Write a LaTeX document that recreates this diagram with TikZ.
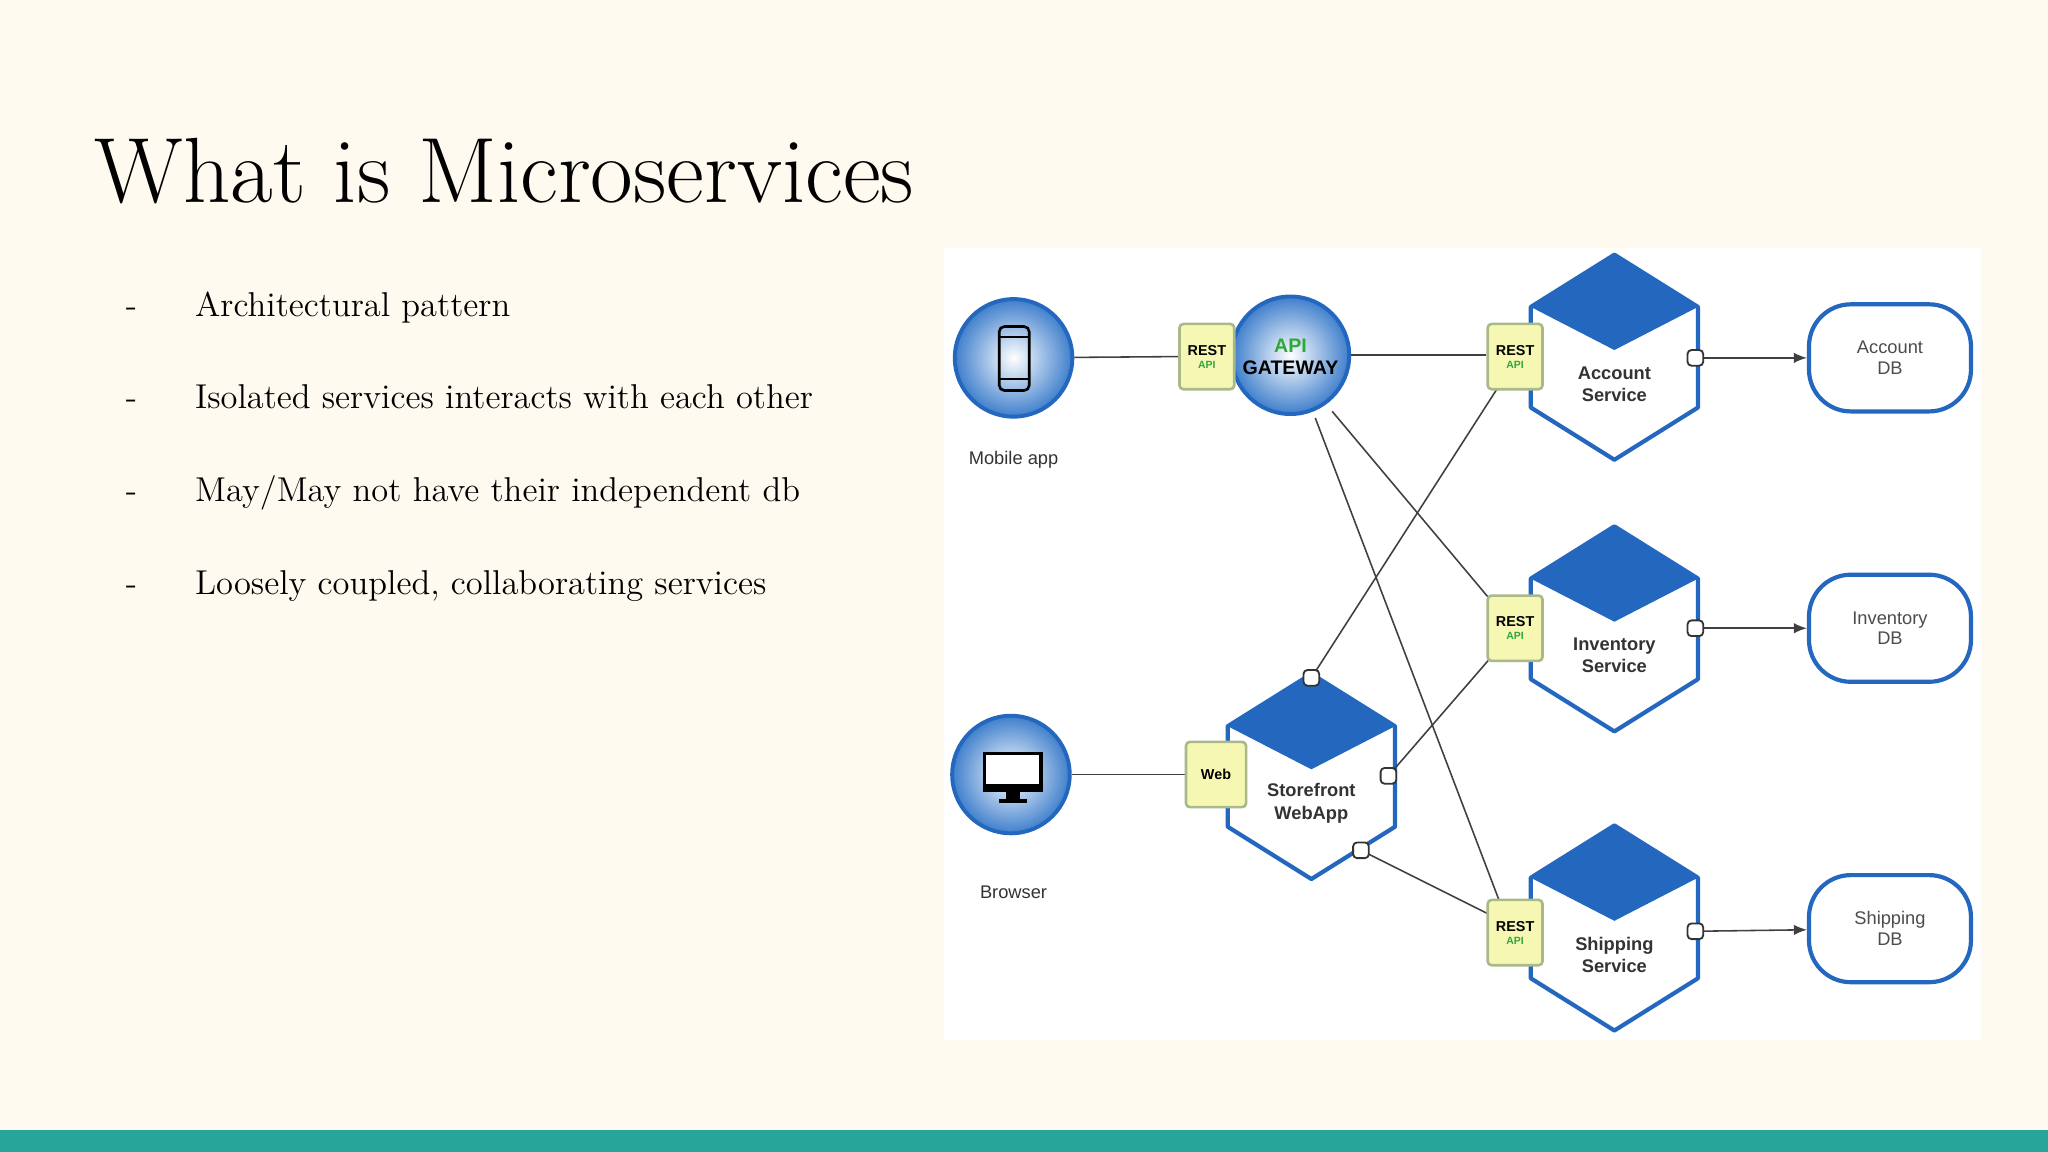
\documentclass[tikz,border=0pt]{standalone}
\usepackage{fontspec}
\newfontfamily\dsans{Liberation Sans}
\usetikzlibrary{arrows.meta}
\definecolor{bg}{HTML}{FEFAEF}
\definecolor{teal}{HTML}{26A69A}
\definecolor{hblue}{HTML}{2367BE}
\definecolor{cblue}{HTML}{3F7FCC}
\definecolor{ylw}{HTML}{F7F7B4}
\definecolor{ygr}{HTML}{A9B98A}
\definecolor{agreen}{HTML}{2FA83A}
\begin{document}
\begin{tikzpicture}[x=0.5pt,y=-0.5pt,
  circ/.style={circle,draw=hblue,line width=1.5pt,minimum size=45pt,inner sep=0pt,shading=radial,inner color=white,outer color=cblue},
  box/.style={rectangle,rounded corners=1.5pt,draw=ygr,line width=1pt,fill=ylw,minimum width=21pt,minimum height=25pt,inner sep=0pt,font=\dsans\bfseries\fontsize{5.5}{6}\selectfont,align=center},
  port/.style={rectangle,rounded corners=1.5pt,draw=black!80,line width=0.7pt,fill=white,minimum size=6pt,inner sep=0pt},
  db/.style={rectangle,rounded corners=16pt,draw=hblue,line width=1.6pt,fill=white,minimum width=62pt,minimum height=41pt,font=\dsans\fontsize{7}{8}\selectfont,text=black!70,align=center},
  lbl/.style={font=\dsans\bfseries\fontsize{7}{8.5}\selectfont,text=black!80,align=center},
  captn/.style={font=\dsans\fontsize{7}{8}\selectfont,text=black!80},
  wire/.style={draw=black!75,line width=0.6pt},
  bul/.style={anchor=base west,inner sep=0pt,font=\fontsize{13.2}{15}\selectfont}]
\useasboundingbox (0,0) rectangle (1568,882);
\fill[bg] (0,0) rectangle (1568,882);
\fill[teal] (0,865) rectangle (1568,882);
\node[anchor=base west,inner sep=0pt,font=\fontsize{35.5}{40}\selectfont] (title) at (72,155) {What is Microservices};
\foreach \y/\t [count=\i] in {242/Architectural pattern,313/Isolated services interacts with each other,384/May\slash May not have their independent db,455/{Loosely coupled, collaborating services}}{
  \node[bul] (d\i) at (96,\y) {-};
  \node[bul] (b\i) at (149,\y) {\t};
}
\fill[white] (723,190) rectangle (1517,796);
% hexagons
\newcommand\myhex[4]{%
  \filldraw[draw=hblue,line width=1.6pt,fill=white,line join=round] (#2,#3-78)--(#2+64,#3-38)--(#2+64,#3+39)--(#2,#3+79)--(#2-64,#3+39)--(#2-64,#3-38)--cycle;
  \fill[hblue] (#2,#3-78)--(#2+64,#3-38)--(#2,#3-5)--(#2-64,#3-38)--cycle;
  \node[lbl] (#1) at (#2,#3+21) {#4};}
\myhex{acc}{1236}{273}{Account\\Service}
\myhex{inv}{1236}{481}{Inventory\\Service}
\myhex{shp}{1236}{710}{Shipping\\Service}
\myhex{sto}{1004}{594}{Storefront\\WebApp}
% circles
\node[circ] (mob) at (776,274) {};
\node[circ] (gw) at (988,272) {};
\node[circ] (brw) at (774,593) {};
\node[font=\dsans\bfseries\fontsize{7.5}{8.5}\selectfont,align=center] (gwt) at (988,273) {\textcolor{agreen}{API}\\GATEWAY};
\node[captn] (mobl) at (776,352) {Mobile app};
\node[captn] (brwl) at (776,683) {Browser};
% icons
\draw[line width=1pt,rounded corners=2pt] (765,250) rectangle (788,299);
\draw[line width=0.6pt] (765,258)--(788,258) (765,290)--(788,290);
\draw[line width=1.2pt,fill=white] (754,577) rectangle (797,605);
\fill[black] (754,600) rectangle (797,605);
\fill[black] (770,605) rectangle (781,612);
\fill[black] (765,612) rectangle (786,615);
% wires
\draw[wire] (mob) -- (903,273);
\draw[wire] (gw) -- (1138,272);
\draw[wire] (brw) -- (908,593);
\draw[wire] (1020,315) -- (1140,458);
\draw[wire] (1007,320) -- (1148,690);
\draw[wire] (1004,519) -- (1146,298);
\draw[wire] (1063,594) -- (1140,505);
\draw[wire] (1042,651) -- (1140,700);
% boxes
\node[box] (r0) at (924,273) {REST\\[-1pt]\textcolor{agreen}{\fontsize{4}{4}\selectfont API}};
\node[box] (r1) at (1160,273) {REST\\[-1pt]\textcolor{agreen}{\fontsize{4}{4}\selectfont API}};
\node[box] (r2) at (1160,481) {REST\\[-1pt]\textcolor{agreen}{\fontsize{4}{4}\selectfont API}};
\node[box] (r3) at (1160,714) {REST\\[-1pt]\textcolor{agreen}{\fontsize{4}{4}\selectfont API}};
\node[box,minimum width=23pt] (web) at (931,593) {Web};
% ports
\node[port] (p1) at (1298,274) {};
\node[port] (p2) at (1298,481) {};
\node[port] (p3) at (1298,713) {};
\node[port] (s1) at (1004,519) {};
\node[port] (s2) at (1063,594) {};
\node[port] (s3) at (1042,651) {};
% dbs
\node[db] (db1) at (1447,274) {Account\\DB};
\node[db] (db2) at (1447,481) {Inventory\\DB};
\node[db] (db3) at (1447,711) {Shipping\\DB};
\foreach \i in {1,2,3}{\draw[wire,-{Latex[length=5pt,width=4pt]}] (p\i) -- (db\i);}
\end{tikzpicture}
\end{document}
